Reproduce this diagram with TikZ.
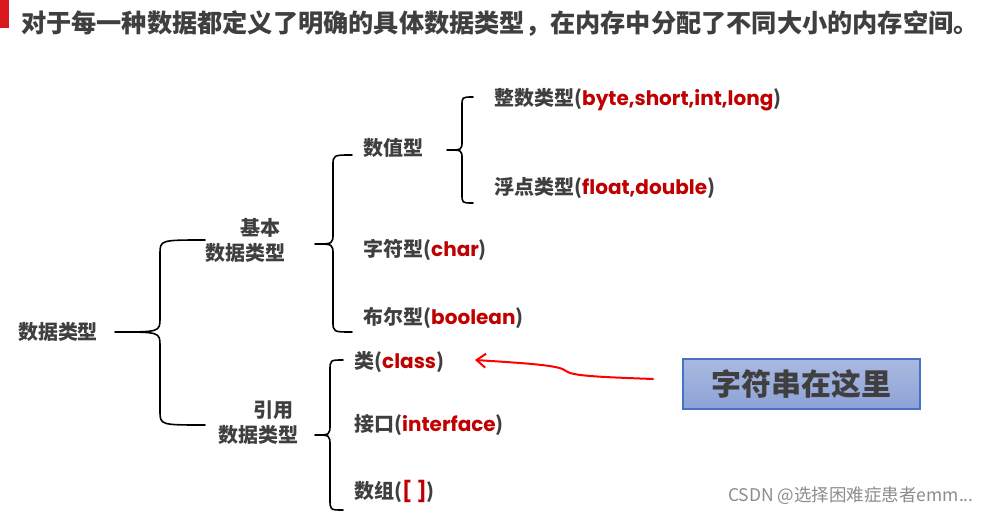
\documentclass[tikz,border=0pt]{standalone}
\usepackage{fontspec}
\setmainfont{Poppins}
\newfontfamily\cjk{Noto Sans CJK SC}
\usetikzlibrary{arrows.meta}
\definecolor{txtgray}{HTML}{3F3F3F}
\definecolor{codered}{HTML}{C00000}
\definecolor{boxtop}{HTML}{A9B9E0}
\definecolor{boxbot}{HTML}{8DA2D6}
\definecolor{boxline}{HTML}{4472C4}
\definecolor{barred}{HTML}{D7191E}
\newcommand\zh[1]{{\cjk\bfseries #1}}
\newcommand\en[1]{{\color{codered}\bfseries #1}}
\tikzset{
  lbl/.style={anchor=west, inner sep=0pt, text=txtgray, font=\fontsize{20}{24}\selectfont},
  clbl/.style={anchor=center, inner sep=0pt, text=txtgray, font=\fontsize{20}{24}\selectfont},
  bracepath/.style={draw=black, line width=1.6pt, line cap=round, line join=round},
}
% brace: #1 hook x, #2 vertical x, #3 tip x, #4 top y, #5 mid y, #6 bottom y, #7 radius
\newcommand\mybrace[7]{%
  \draw[bracepath] (#1,#4) .. controls (#2,#4) .. (#2,#4+#7) -- (#2,#5-#7)
    .. controls (#2,#5) .. (#3,#5) .. controls (#2,#5) .. (#2,#5+#7)
    -- (#2,#6-#7) .. controls (#2,#6) .. (#1,#6);}
\newcommand\pl{\zh{(}}
\newcommand\pr{\zh{)}}
\begin{document}
\begin{tikzpicture}[x=1pt,y=-1pt]
\useasboundingbox (0,0) rectangle (989,514);
\fill[barred] (0,0) rectangle (9,28);
\node[anchor=west, inner sep=0pt, text=txtgray, font=\fontsize{25.2}{28}\selectfont] (title) at (21,24)
  {\zh{对于每一种数据都定义了明确的具体数据类型，在内存中分配了不同大小的内存空间。}};

\node[clbl] (root) at (58,332) {\zh{数据类型}};
\node[clbl] (basic1) at (260,228) {\zh{基本}};
\node[clbl] (basic2) at (245,253) {\zh{数据类型}};
\node[clbl] (ref1) at (273,410) {\zh{引用}};
\node[clbl] (ref2) at (258,435) {\zh{数据类型}};

\node[lbl] (num) at (363,148) {\zh{数值型}};
\node[lbl] (int) at (494,100) {\zh{整数类型}\pl\en{byte,short,int,long}\pr};
\node[lbl] (flt) at (494,188) {\zh{浮点类型}\pl\en{float,double}\pr};
\node[lbl] (chr) at (363,250) {\zh{字符型}\pl\en{char}\pr};
\node[lbl] (bool) at (363,318) {\zh{布尔型}\pl\en{boolean}\pr};
\node[lbl] (cls) at (354,362) {\zh{类}\pl\en{class}\pr};
\node[lbl] (ifc) at (354,425) {\zh{接口}\pl\en{interface}\pr};
\node[lbl] (arr) at (354,491) {\zh{数组}\pl\en{[ ]}\pr};

\mybrace{205}{160}{115}{240}{332}{425}{14}
\mybrace{352}{333}{315}{155}{244}{332}{11}
\mybrace{473}{462}{447}{97}{150}{203}{9}
\mybrace{343}{330}{315}{360}{435}{510}{11}

\node[draw=boxline, line width=1.5pt, top color=boxtop, bottom color=boxbot,
  minimum width=237pt, minimum height=50pt, inner sep=0pt,
  text=txtgray, font=\fontsize{30}{34}\selectfont] (str) at (801.5,384) {\zh{字符串在这里}};

\coordinate (astart) at (653,379);
\coordinate (aend) at (475,360);
\draw[red, line width=2pt, line cap=round, -{Straight Barb[length=9pt,width=14pt,line width=2pt]}]
  (astart) .. controls (600,377) and (572,376) .. (566,371)
  .. controls (560,366) and (540,364) .. (aend);

\node[anchor=west, inner sep=0pt, text=black!45, font=\cjk\fontsize{17.5}{19}\selectfont] (wm) at (728,496)
  {CSDN @选择困难症患者emm...};
\end{tikzpicture}
\end{document}
